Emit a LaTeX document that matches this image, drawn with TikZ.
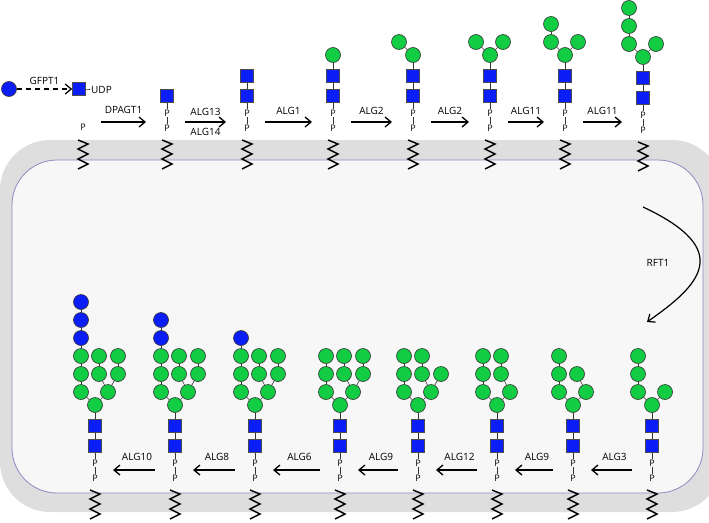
\documentclass[tikz,border=0pt]{standalone}
\usepackage{fontspec}
\setmainfont{Open Sans}
\usetikzlibrary{calc,arrows.meta}
\definecolor{gblue}{HTML}{0A1EF5}
\definecolor{ggreen}{HTML}{12CC44}
\tikzset{
 gc/.style={circle,draw=black!80,fill=ggreen,minimum size=15pt,inner sep=0pt,line width=0.6pt},
 bc/.style={circle,draw=black!80,fill=gblue,minimum size=15pt,inner sep=0pt,line width=0.6pt},
 sq/.style={rectangle,draw=black!70,fill=gblue,minimum size=13pt,inner sep=0pt,line width=0.6pt},
 ptxt/.style={inner sep=0.3pt,font=\fontsize{9}{9}\selectfont},
 lbl/.style={font=\fontsize{10}{11}\selectfont,inner sep=1pt},
 zig/.style={line width=1.4pt,line join=miter},
 arr/.style={line width=1.3pt,-{Straight Barb[length=6pt,width=10pt]}},
 lnk/.style={line width=0.6pt,black!80}
}
\newcommand\defel[5]{\expandafter\def\csname ex#1\endcsname{#2}\expandafter\def\csname ey#1\endcsname{#3}\expandafter\def\csname ep#1\endcsname{#4}\expandafter\def\csname es#1\endcsname{#5}}
\defel{core}{0}{-85}{s2}{gc}
\defel{a1}{-14}{-98}{core}{gc}
\defel{a2}{-14}{-116}{a1}{gc}
\defel{a3}{-14}{-134}{a2}{gc}
\defel{g1}{-14}{-152}{a3}{bc}
\defel{g2}{-14}{-170}{g1}{bc}
\defel{g3}{-14}{-188}{g2}{bc}
\defel{b0}{13}{-98}{core}{gc}
\defel{b1}{4}{-116}{b0}{gc}
\defel{b2}{23}{-116}{b0}{gc}
\defel{c1}{4}{-134}{b1}{gc}
\defel{c2}{23}{-134}{b2}{gc}
\newcommand\sugars[4]{%
 \foreach \e in {#4}{%
  \edef\dx{\csname ex\e\endcsname}\edef\dy{\csname ey\e\endcsname}%
  \edef\pp{\csname ep\e\endcsname}\edef\st{\csname es\e\endcsname}%
  \node[\st] (#1\e) at ({#2+\dx},{#3+\dy}) {};
  \draw[lnk] (#1\e) -- (#1\pp);
 }}
\newcommand\zz[2]{\draw[zig] (#1-5,#2) -- ++(10,4) -- ++(-10,5) -- ++(10,5) -- ++(-10,5) -- ++(10,5) -- ++(-10,5);}
\newcommand\lipid[4]{%
 \zz{#2}{#3}
 \node[ptxt] (#1p1) at (#2,#3-12) {P};
 \node[ptxt] (#1p2) at (#2,#3-27) {P};
 \draw[lnk] (#1p1) -- (#1p2);
 \ifnum#4>0 \node[sq] (#1s1) at (#2,#3-44) {}; \draw[lnk] (#1p2) -- (#1s1);\fi
 \ifnum#4>1 \node[sq] (#1s2) at (#2,#3-64) {}; \draw[lnk] (#1s1) -- (#1s2);\fi
}
\begin{document}
\begin{tikzpicture}[x=1pt,y=-1pt]
\useasboundingbox (0,0) rectangle (709,522);
% membrane
\fill[black!13,rounded corners=50pt] (0,140) rectangle (722,512);
\filldraw[fill=black!3,draw=blue!30!gray!70,line width=0.8pt,rounded corners=45pt] (12,160) rectangle (703,493);
% precursor
\node[bc] (glc) at (9,89) {};
\node[sq] (udpsq) at (79,89) {};
\node[lbl,anchor=west] (udp) at (90,90) {UDP};
\draw[lnk] (udpsq) -- (udp);
\draw[arr,dash pattern=on 5pt off 4pt] (glc) -- (udpsq) node[midway,above=3pt,lbl] {GFPT1};
% top row
\zz{83}{140}
\node[ptxt] (t0p) at (83,127) {P};
\lipid{t1}{167}{140}{1}
\lipid{t2}{247}{140}{2}
\lipid{t3}{333}{140}{2}\sugars{t3}{333}{140}{core}
\lipid{t4}{413}{140}{2}\sugars{t4}{413}{140}{core,a1}
\lipid{t5}{490}{140}{2}\sugars{t5}{490}{140}{core,a1,b0}
\lipid{t6}{565}{140}{2}\sugars{t6}{565}{140}{core,a1,b0,a2}
\lipid{t7}{643}{142}{2}\sugars{t7}{643}{142}{core,a1,b0,a2,a3}
\foreach \xa/\xb/\n in {83/167/1,167/247/2,247/333/3,333/413/4,413/490/5,490/565/6,565/643/7}{
 \coordinate (ta\n) at (\xa+18,122); \coordinate (tb\n) at (\xb-21,122);
 \draw[arr] (ta\n) -- (tb\n);}
\node[lbl] (l1) at ($(ta1)!0.5!(tb1)+(0,-12)$) {DPAGT1};
\node[lbl] (l2) at ($(ta2)!0.5!(tb2)+(0,-10)$) {ALG13};
\node[lbl] (l2b) at ($(ta2)!0.5!(tb2)+(0,10)$) {ALG14};
\node[lbl] (l3) at ($(ta3)!0.5!(tb3)+(0,-11)$) {ALG1};
\node[lbl] (l4) at ($(ta4)!0.5!(tb4)+(0,-11)$) {ALG2};
\node[lbl] (l5) at ($(ta5)!0.5!(tb5)+(0,-11)$) {ALG2};
\node[lbl] (l6) at ($(ta6)!0.5!(tb6)+(0,-11)$) {ALG11};
\node[lbl] (l7) at ($(ta7)!0.5!(tb7)+(0,-11)$) {ALG11};
% RFT1
\coordinate (r0) at (643,207);
\coordinate (r1) at (647,322);
\draw[arr,line width=1.2pt] (r0) .. controls (735,250) and (700,285) .. (r1);
\node[lbl] (rft) at (658,263) {RFT1};
% bottom row
\lipid{u8}{652}{490}{2}\sugars{u8}{652}{490}{core,a1,b0,a2,a3}
\lipid{u7}{573}{490}{2}\sugars{u7}{573}{490}{core,a1,b0,a2,a3,b1}
\lipid{u6}{497}{490}{2}\sugars{u6}{497}{490}{core,a1,b0,a2,a3,b1,c1}
\lipid{u5}{418}{490}{2}\sugars{u5}{418}{490}{core,a1,b0,a2,a3,b1,c1,b2}
\lipid{u4}{340}{490}{2}\sugars{u4}{340}{490}{core,a1,b0,a2,a3,b1,c1,b2,c2}
\lipid{u3}{255}{490}{2}\sugars{u3}{255}{490}{core,a1,b0,a2,a3,b1,c1,b2,c2,g1}
\lipid{u2}{175}{490}{2}\sugars{u2}{175}{490}{core,a1,b0,a2,a3,b1,c1,b2,c2,g1,g2}
\lipid{u1}{95}{490}{2}\sugars{u1}{95}{490}{core,a1,b0,a2,a3,b1,c1,b2,c2,g1,g2,g3}
\foreach \xa/\xb/\n/\t in {95/175/1/ALG10,175/255/2/ALG8,255/340/3/ALG6,340/418/4/ALG9,418/497/5/ALG12,497/573/6/ALG9,573/652/7/ALG3}{
 \coordinate (ba\n) at (\xb-20,470); \coordinate (bb\n) at (\xa+18,470);
 \draw[arr] (ba\n) -- (bb\n);
 \node[lbl] (bl\n) at ($(ba\n)!0.5!(bb\n)+(3,-13)$) {\t};}
\end{tikzpicture}
\end{document}
